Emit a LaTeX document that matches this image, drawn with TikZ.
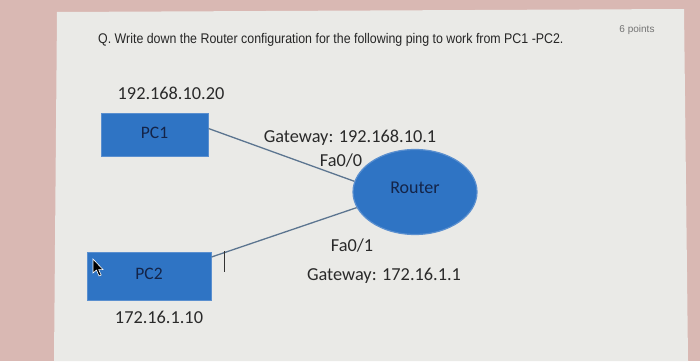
\documentclass[tikz,border=0pt]{standalone}
\usepackage{fontspec}
\setmainfont{Carlito}
\newfontfamily\titlefont{Liberation Sans}
\usetikzlibrary{shapes.geometric}
\definecolor{pinkbg}{HTML}{D9B8B3}
\definecolor{screen}{HTML}{EAEAE7}
\definecolor{boxblue}{HTML}{2F74C4}
\definecolor{boxedge}{HTML}{5A8FCF}
\definecolor{navy}{HTML}{142448}
\definecolor{linkcol}{HTML}{5C7590}
\definecolor{txt}{HTML}{2A2A2A}
\begin{document}
\begin{tikzpicture}[x=1pt,y=-1pt,
  pcbox/.style={draw=boxedge,line width=1pt,fill=boxblue,text=navy,font=\fontsize{17.5}{20}\selectfont,inner sep=0pt},
  routershape/.style={ellipse,draw=boxedge,line width=1.2pt,fill=boxblue,text=navy,font=\fontsize{18}{20}\selectfont,inner sep=0pt},
  lab/.style={text=txt,font=\fontsize{18.3}{21}\selectfont,inner sep=0pt},
  link/.style={draw=linkcol,line width=1.3pt}]
\useasboundingbox (0,0) rectangle (700,361);
\fill[pinkbg] (0,0) rectangle (700,361);
\fill[screen] (57,12) -- (684,9) -- (688,361) -- (54,361) -- cycle;

\node[text=black!85,inner sep=0pt,anchor=west] (title) at (98,40)
  {\scalebox{0.885}[1]{\titlefont\fontsize{14}{16}\selectfont Q. Write down the Router configuration for the following ping to work from PC1 -PC2.}};
\node[text=black!55,inner sep=0pt] (pts) at (637,30) {\titlefont\fontsize{10}{11}\selectfont 6 points};

\node[pcbox,minimum width=107,minimum height=43] (pc1) at (154.5,134.5) {\raisebox{4pt}{PC1}};
\node[pcbox,minimum width=124,minimum height=48] (pc2) at (149,276) {\raisebox{4pt}{PC2}};
\node[routershape,minimum width=124,minimum height=85] (router) at (415,192) {\raisebox{8pt}{Router}};

\draw[link] ([yshift=6pt]pc1.east) -- (router.170);
\draw[link] ([yshift=19pt]pc2.east) -- (router.195);

\node[lab] (ip1) at (171,93) {192.168.10.20};
\node[lab] (gw1) at (350,138) {Gateway: 192.168.10.1};
\node[lab] (fa00) at (341,161) {Fa0/0};
\node[lab] (fa01) at (352,246) {Fa0/1};
\node[lab] (gw2) at (384,276) {Gateway: 172.16.1.1};
\node[lab] (ip2) at (159,317) {172.16.1.10};

% text cursor
\draw[black!80,line width=1pt] (224,251) -- (224,272);
% mouse pointer
\filldraw[fill=black,draw=white,line width=0.6pt]
  (93,259) -- (93,273) -- (96.5,270) -- (99,276) -- (101.2,275) -- (98.7,269.6) -- (103,269.6) -- cycle;
\end{tikzpicture}
\end{document}
